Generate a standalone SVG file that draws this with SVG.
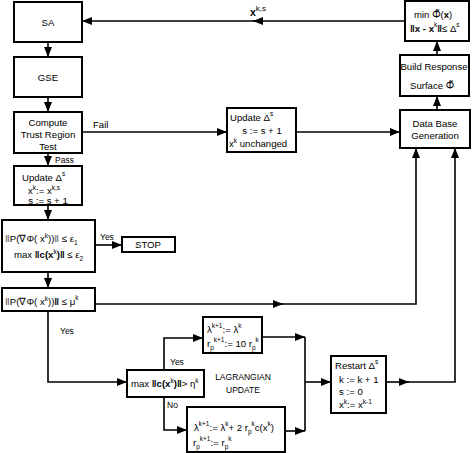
<svg xmlns="http://www.w3.org/2000/svg" width="474" height="453" viewBox="0 0 474 453">
<style>
.b{fill:#fff;stroke:#000;stroke-width:2}
.c{fill:none;stroke:#000;stroke-width:1.6}
text{font-family:"Liberation Sans",Arial,sans-serif;font-size:9.6px;fill:#000}
.m{text-anchor:middle}
.s{font-size:6.5px}
.bd{font-weight:bold}
.l{font-size:8.5px}
.ph{font-family:"Noto Sans","DejaVu Sans",sans-serif;font-size:10px}
</style>
<defs>
<marker id="a" markerUnits="userSpaceOnUse" markerWidth="11" markerHeight="8" refX="10" refY="4" orient="auto">
<path d="M0,0 L10,4 L0,8 Z" fill="#000"/>
</marker>
</defs>
<rect width="474" height="453" fill="#fff"/>
<g id="connectors">
<path class="c" d="M48,42 V57" marker-end="url(#a)"/>
<path class="c" d="M48,97 V112" marker-end="url(#a)"/>
<path class="c" d="M82,132 H227" marker-end="url(#a)"/>
<path class="c" d="M296,132 H400" marker-end="url(#a)"/>
<path class="c" d="M437,110 V96" marker-end="url(#a)"/>
<path class="c" d="M437,55 V41" marker-end="url(#a)"/>
<path class="c" d="M405,21 H253" marker-end="url(#a)"/>
<path class="c" d="M260,21 H82" marker-end="url(#a)"/>
<path class="c" d="M48,153 V166" marker-end="url(#a)"/>
<path class="c" d="M48,205 V220" marker-end="url(#a)"/>
<path class="c" d="M95,245 H122" marker-end="url(#a)"/>
<path class="c" d="M48,272 V288" marker-end="url(#a)"/>
<path class="c" d="M95,304 H283" marker-end="url(#a)"/>
<path class="c" d="M276,304 H416 V148" marker-end="url(#a)"/>
<path class="c" d="M48,311 V382 H127" marker-end="url(#a)"/>
<path class="c" d="M164,370 V338 H203" marker-end="url(#a)"/>
<path class="c" d="M164,397 V430 H187" marker-end="url(#a)"/>
<path class="c" d="M262,337 H305" marker-end="url(#a)"/>
<path class="c" d="M285,431 H305" marker-end="url(#a)"/>
<path class="c" d="M305,337 V431"/>
<path class="c" d="M305,382 H331" marker-end="url(#a)"/>
<path class="c" d="M386,382 H409" marker-end="url(#a)"/>
<path class="c" d="M402,382 H455 V148" marker-end="url(#a)"/>
<text x="93" y="128">Fail</text>
<text x="55" y="163" class="l">Pass</text>
<text x="100" y="240" class="l">Yes</text>
<text x="60" y="334" class="l">Yes</text>
<text x="170" y="365" class="l">Yes</text>
<text x="167" y="408" class="l">No</text>
<text x="250" y="16" class="bd" style="font-size:10.5px">x<tspan dy="-5" style="font-size:8px;font-weight:normal">k,s</tspan></text>
</g>
<g id="SA"><rect class="b" x="14" y="2" width="68" height="40"/><text class="m" x="48" y="26">SA</text></g>
<g id="GSE"><rect class="b" x="14" y="57" width="68" height="40"/><text class="m" x="48" y="81">GSE</text></g>
<g id="trust"><rect class="b" x="14" y="112" width="68" height="41"/>
<text class="m" x="48" y="126">Compute</text><text class="m" x="48" y="138">Trust Region</text><text class="m" x="48" y="150">Test</text></g>
<g id="update2"><rect class="b" x="227" y="108" width="69" height="44"/>
<text x="230" y="121">Update  Δ<tspan class="s" dy="-5">s</tspan></text>
<text class="m" x="262" y="134">s := s + 1</text>
<text x="229" y="147">x<tspan class="s" dy="-4">k</tspan><tspan dy="4"> unchanged</tspan></text></g>
<g id="dbg"><rect class="b" x="400" y="110" width="70" height="38"/>
<text class="m" x="435" y="127">Data Base</text><text class="m" x="435" y="139">Generation</text></g>
<g id="brs"><rect class="b" x="400" y="55" width="69" height="41"/>
<text class="m" x="434" y="70">Build Response</text><text x="410" y="89">Surface  <tspan class="ph">Φ̃</tspan></text></g>
<g id="min"><rect class="b" x="405" y="1" width="64" height="40"/>
<text x="414" y="18">min  <tspan class="ph">Φ̃</tspan>(<tspan class="bd">x</tspan>)</text>
<text x="410" y="32"><tspan class="bd">‖x - x</tspan><tspan class="s" dy="-5">k</tspan><tspan dy="5" class="bd">‖</tspan>≤  Δ<tspan class="s" dy="-5">s</tspan></text></g>
<g id="update1"><rect class="b" x="14" y="166" width="68" height="39"/>
<text x="22" y="181">Update  Δ<tspan class="s" dy="-5">s</tspan></text>
<text x="28" y="194">x<tspan class="s" dy="-4">k</tspan><tspan dy="4">:= x</tspan><tspan class="s" dy="-4">k,s</tspan></text>
<text class="m" x="48" y="204">s := s + 1</text></g>
<g id="conv"><rect class="b" x="2" y="220" width="93" height="52"/>
<text x="5" y="242"><tspan fill="#777" class="bd">‖</tspan>P(∇Φ( x<tspan class="s" dy="-4">k</tspan><tspan dy="4">))</tspan><tspan fill="#777" class="bd">‖</tspan> ≤  ε<tspan class="s" dy="3">1</tspan></text>
<text x="14" y="258">max <tspan class="bd">‖c(x</tspan><tspan class="s" dy="-4">k</tspan><tspan dy="4" class="bd">)‖</tspan>  ≤  ε<tspan class="s" dy="3">2</tspan></text></g>
<g id="stop"><rect class="b" x="122" y="237" width="53" height="15"/><text class="m" x="148" y="248">STOP</text></g>
<g id="mu"><rect class="b" x="2" y="288" width="93" height="23"/>
<text x="5" y="305"><tspan fill="#777" class="bd">‖</tspan>P(∇Φ( x<tspan class="s" dy="-4">k</tspan><tspan dy="4">))</tspan><tspan class="bd">‖</tspan> ≤  μ<tspan class="s" dy="-5">k</tspan></text></g>
<g id="maxc"><rect class="b" x="127" y="370" width="77" height="27"/>
<text x="131" y="387">max <tspan class="bd">‖c(x</tspan><tspan class="s" dy="-4">k</tspan><tspan dy="4" class="bd">)‖</tspan>&gt; η<tspan class="s" dy="-4">k</tspan></text></g>
<g id="lagr1"><rect class="b" x="203" y="317" width="59" height="36"/>
<text x="207" y="333">λ<tspan class="s" dy="-5">k+1</tspan><tspan dy="5">:= λ</tspan><tspan class="s" dy="-5">k</tspan></text>
<text x="207" y="347">r<tspan class="s" dy="3">p</tspan><tspan class="s" dy="-8">k+1</tspan><tspan dy="5">:= 10 r</tspan><tspan class="s" dy="3">p</tspan><tspan class="s" dy="-8">k</tspan></text></g>
<g id="lagrlabel"><text class="m l" x="243" y="380">LAGRANGIAN</text><text class="m l" x="243" y="393">UPDATE</text></g>
<g id="lagr2"><rect class="b" x="187" y="407" width="98" height="45"/>
<text x="194" y="431">λ<tspan class="s" dy="-5">k+1</tspan><tspan dy="5">:= λ</tspan><tspan class="s" dy="-5">k</tspan><tspan dy="5">+ 2 r</tspan><tspan class="s" dy="3">p</tspan><tspan class="s" dy="-8">k</tspan><tspan dy="5">c(x</tspan><tspan class="s" dy="-5">k</tspan><tspan dy="5">)</tspan></text>
<text x="193" y="446">r<tspan class="s" dy="3">p</tspan><tspan class="s" dy="-8">k+1</tspan><tspan dy="5">:=  r</tspan><tspan class="s" dy="3">p</tspan><tspan class="s" dy="-8">k</tspan></text></g>
<g id="restart"><rect class="b" x="331" y="356" width="55" height="57"/>
<text x="335" y="369">Restart  Δ<tspan class="s" dy="-5">s</tspan></text>
<text x="339" y="383">k := k + 1</text>
<text x="339" y="395">s := 0</text>
<text x="339" y="408">x<tspan class="s" dy="-4">k</tspan><tspan dy="4">:= x</tspan><tspan class="s" dy="-4">k-1</tspan></text></g>
</svg>
